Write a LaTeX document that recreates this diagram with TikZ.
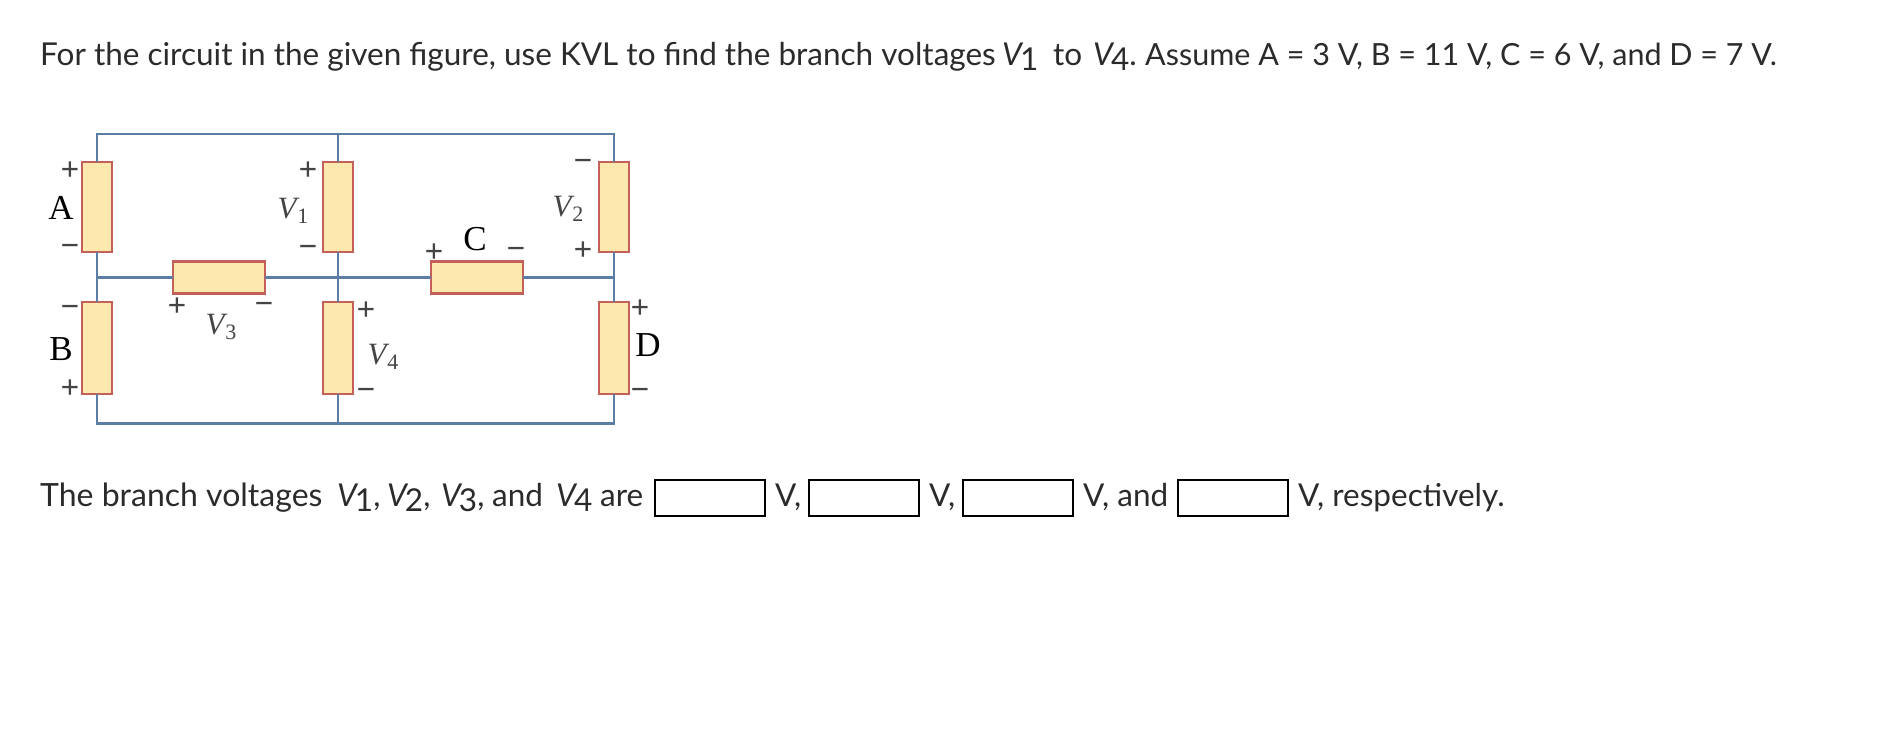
\documentclass[tikz,border=0pt]{standalone}
\usepackage{fontspec}
\setmainfont{Lato}
\newfontfamily\circfont{Liberation Serif}
\newcommand{\Vq}[1]{\textit{V}\kern-3.5pt\raisebox{-5pt}{#1}}
\newcommand{\Vc}[1]{{\fontsize{31}{31}\selectfont\textit{V}}\kern-2pt\raisebox{-5pt}{\fontsize{22}{22}\selectfont #1}}
\definecolor{wirecol}{HTML}{5B7DA6}
\definecolor{boxfill}{HTML}{FDE9AE}
\definecolor{boxline}{HTML}{C4605A}
\definecolor{signcol}{HTML}{444444}
\definecolor{txtcol}{HTML}{2B2B2B}
\tikzset{
  wire/.style={draw=wirecol,line width=2.4pt},
  vbox/.style={draw=boxline,fill=boxfill,line width=2.4pt,minimum width=30pt,minimum height=90pt,inner sep=0pt,outer sep=0pt},
  hbox/.style={draw=boxline,fill=boxfill,line width=2.4pt,minimum width=92pt,minimum height=32pt,inner sep=0pt,outer sep=0pt},
  sign/.style={text=signcol,inner sep=0pt,yshift=-2.5pt,font=\circfont\bfseries\fontsize{33}{33}\selectfont},
  letter/.style={text=black,inner sep=0pt,font=\circfont\fontsize{35}{35}\selectfont},
  vlab/.style={text=signcol,inner sep=0pt,font=\circfont},
  line/.style={text=txtcol,inner sep=0pt,anchor=base west,font=\fontsize{31.5}{36}\selectfont},
  answer/.style={draw=black,line width=2pt,minimum width=110pt,minimum height=36pt,inner sep=0pt,fill=white}
}
\begin{document}
\begin{tikzpicture}[x=1pt,y=-1pt]
\useasboundingbox (0,0) rectangle (1888,742);
\node[line] (q1) at (40,65.5) {For the circuit in the given figure, use KVL to find the branch voltages};
\node[line] (q1a) at (1002,65.5) {\Vq{1}};
\node[line] (q1b) at (1053,65.5) {to};
\node[line] (q1c) at (1093,65.5) {\Vq{4}.};
\node[line,font=\fontsize{30.5}{36}\selectfont] (q1d) at (1145,65.5) {Assume A = 3 V, B = 11 V, C = 6 V, and D = 7 V.};
\node[vbox] (A) at (97,207) {};
\node[vbox,minimum height=92pt] (B) at (97,348) {};
\node[vbox] (V1) at (338,207) {};
\node[vbox,minimum height=92pt] (V4) at (338,348) {};
\node[vbox] (V2) at (614,207) {};
\node[vbox,minimum height=92pt] (D) at (614,348) {};
\node[hbox] (V3) at (219,277.5) {};
\node[hbox] (C) at (477,277.5) {};
\coordinate (TL) at (97,134);
\coordinate (TM) at (338,134);
\coordinate (TR) at (614,134);
\coordinate (ML) at (97,277.5);
\coordinate (MM) at (338,277.5);
\coordinate (MR) at (614,277.5);
\coordinate (BL) at (97,423.5);
\coordinate (BM) at (338,423.5);
\coordinate (BR) at (614,423.5);
\draw[wire] (A.north) -- (TL) -- (TR) -- (V2.north);
\draw[wire] (TM) -- (V1.north);
\draw[wire] (A.south) -- (B.north);
\draw[wire] (V1.south) -- (V4.north);
\draw[wire] (V2.south) -- (D.north);
\draw[wire] (B.south) -- (BL) -- (BR) -- (D.south);
\draw[wire] (V4.south) -- (BM);
\draw[wire] (ML) -- (V3.west);
\draw[wire] (V3.east) -- (MM) -- (C.west);
\draw[wire] (C.east) -- (MR);
\node[letter] (lA) at (61,208) {A};
\node[letter] (lB) at (61,349) {B};
\node[letter] (lC) at (475,239) {C};
\node[letter] (lD) at (648,345) {D};
\node[vlab] (l1) at (293,211) {\Vc{1}};
\node[vlab] (l2) at (568,209) {\Vc{2}};
\node[vlab] (l3) at (221,327) {\Vc{3}};
\node[vlab] (l4) at (383,357) {\Vc{4}};
\node[sign] (p1) at (70,169) {+};
\node[sign] (m1) at (70,248) {−};
\node[sign] (m2) at (70,309) {−};
\node[sign] (p2) at (70,387) {+};
\node[sign] (p3) at (308,169) {+};
\node[sign] (m3) at (308,249) {−};
\node[sign] (p4) at (177,305) {+};
\node[sign] (m4) at (264,306) {−};
\node[sign] (p5) at (366,309) {+};
\node[sign] (m5) at (366,392) {−};
\node[sign] (p6) at (434,251) {+};
\node[sign] (m6) at (516,251) {−};
\node[sign] (m7) at (583,163) {−};
\node[sign] (p7) at (583,249) {+};
\node[sign] (p8) at (640,307) {+};
\node[sign] (m8) at (640,392) {−};
\node[line,font=\fontsize{32}{36}\selectfont] (q2) at (40,506) {The branch voltages};
\node[line] (q2a) at (337,506) {\Vq{1},};
\node[line] (q2b) at (387,506) {\Vq{2},};
\node[line] (q2c) at (441,506) {\Vq{3},};
\node[line] (q2d) at (492,506) {and};
\node[line] (q2e) at (556,506) {\Vq{4}};
\node[line] (q2f) at (600,506) {are};
\node[answer] (a1) at (710,498) {};
\node[line] (u1) at (775,506) {V,};
\node[answer] (a2) at (864,498) {};
\node[line] (u2) at (929,506) {V,};
\node[answer] (a3) at (1018,498) {};
\node[line] (u3) at (1083,506) {V, and};
\node[answer] (a4) at (1233,498) {};
\node[line] (u4) at (1298,506) {V, respectively.};
\end{tikzpicture}
\end{document}
